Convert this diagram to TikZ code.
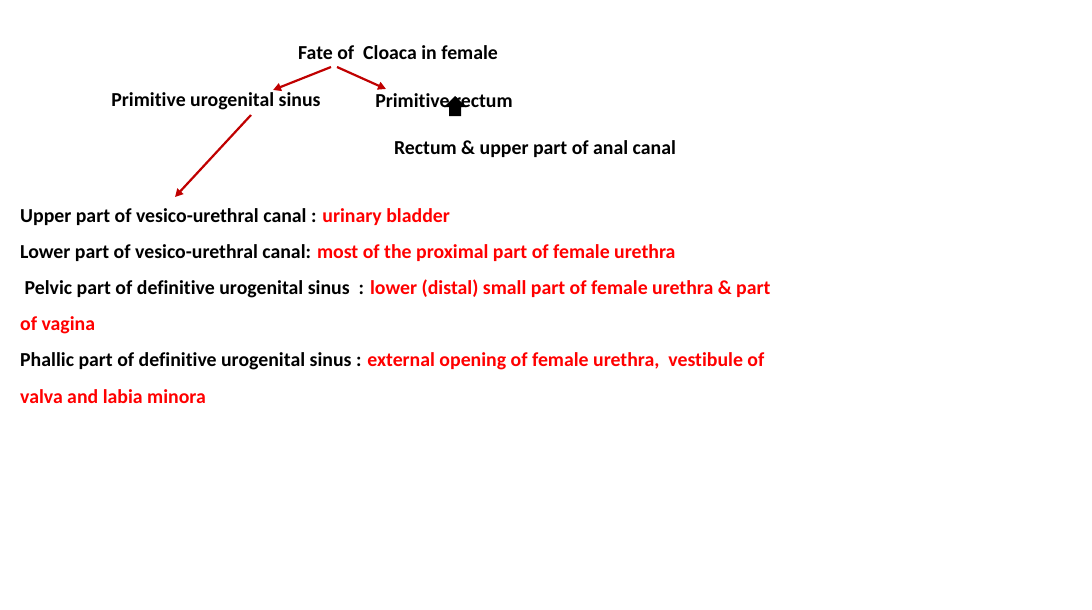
\documentclass[tikz,border=0pt]{standalone}
\usepackage{fontspec}
\setmainfont[RawFeature={-liga;-clig;-dlig;-calt}]{Carlito}
\usetikzlibrary{arrows.meta}
\definecolor{ared}{RGB}{192,0,0}
\definecolor{tred}{RGB}{255,0,0}
\begin{document}
\begin{tikzpicture}[x=1pt,y=-1pt,
  txt/.style={font=\fontsize{19.8}{22}\selectfont\bfseries, inner sep=0pt},
  lt/.style={txt, anchor=west},
  red/.style={text=tred},
  rarr/.style={draw=ared, line width=2.2pt, -{Triangle[length=8pt,width=8pt]}}]
\useasboundingbox (0,0) rectangle (1092,610);
\fill[white] (0,0) rectangle (1092,610);
\node[txt] (fate) at (398,53) {Fate of\ \ Cloaca in female};
\node[txt] (pus) at (216,101) {Primitive urogenital sinus};
\node[txt] (pr) at (444,101) {Primitive rectum};
\node[txt] (rec) at (535,149) {Rectum \& upper part of anal canal};
\coordinate (a1) at (331,67); \coordinate (a1e) at (273,90);
\coordinate (a2) at (337,67); \coordinate (a2e) at (386,89);
\coordinate (a3) at (251,115); \coordinate (a3e) at (175,197);
\draw[rarr] (a1) -- (a1e);
\draw[rarr] (a2) -- (a2e);
\draw[rarr] (a3) -- (a3e);
\coordinate (blk) at (455,116);
\fill[black] ([xshift=-6]blk) -- ([xshift=6]blk) -- ([xshift=6,yshift=9]blk) -- ([xshift=11,yshift=9]blk)
  -- ([yshift=20]blk) -- ([xshift=-11,yshift=9]blk) -- ([xshift=-6,yshift=9]blk) -- cycle;
\node[lt] (l1) at (20,217) {Upper part of vesico-urethral canal\ : \textcolor{tred}{urinary bladder}};
\node[lt] (l2) at (20,253) {Lower part of vesico-urethral canal: \textcolor{tred}{most of the proximal part of female urethra}};
\node[lt] (l3) at (20,289) {\ Pelvic part of definitive urogenital sinus\ \ : \textcolor{tred}{lower (distal) small part of female urethra \& part}};
\node[lt,red] (l4) at (20,325) {of vagina};
\node[lt] (l5) at (20,361) {Phallic part of definitive urogenital sinus : \textcolor{tred}{external opening of female urethra,\ \ vestibule of}};
\node[lt,red] (l6) at (20,397) {valva and labia minora};
\end{tikzpicture}
\end{document}
